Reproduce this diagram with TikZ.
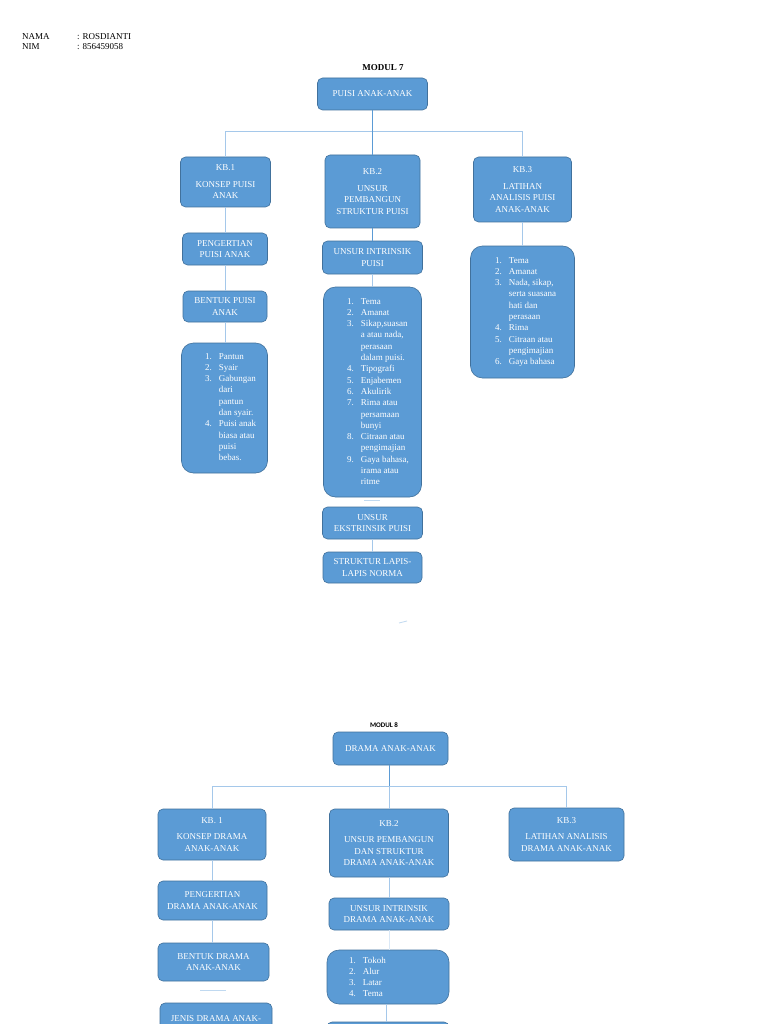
\documentclass[tikz,border=0pt]{standalone}
\usepackage{fontspec}
\setmainfont{Liberation Serif}
\newfontfamily\carlito{Carlito}
\usepackage{tikz}
\definecolor{KotakBiru}{RGB}{91,155,213}
\definecolor{TepiBiru}{RGB}{65,113,156}
\definecolor{GarisMuda}{RGB}{165,200,234}

\begin{document}
\begin{tikzpicture}[x=1pt, y=-1pt, font=\fontsize{9}{11.5}\selectfont,
	kotak/.style={draw=TepiBiru, line width=0.6pt, fill=KotakBiru, rounded corners=5pt,
		text=white, align=center, inner sep=0pt},
	isi/.style={kotak, rounded corners=12pt},
	daftar/.style={text=white, inner sep=0pt, anchor=base west, font=\fontsize{9}{11.3}\selectfont},
	garis/.style={draw=GarisMuda, line width=0.8pt},
	batang/.style={draw=KotakBiru, line width=0.8pt},
	sisa/.style={draw=GarisMuda!70, line width=0.8pt}]

	\useasboundingbox (0,0) rectangle (768,1024);
	\fill[white] (0,0) rectangle (768,1024);
	\clip (0,0) rectangle (768,1024);

	% --- identitas ---
	\node[anchor=base west, inner sep=0pt] (nama) at (22,40) {NAMA};
	\node[anchor=base west, inner sep=0pt] (namaisi) at (77,40) {: ROSDIANTI};
	\node[anchor=base west, inner sep=0pt] (nim) at (22,50) {NIM};
	\node[anchor=base west, inner sep=0pt] (nimisi) at (77,50) {: 856459058};

	% --- modul 7 ---
	\begin{scope}
		\node[font=\fontsize{9}{11}\selectfont\bfseries] (modul7) at (383,68) {MODUL 7};
		\node[kotak, minimum width=110pt, minimum height=32pt] (judul7) at (372.5,94) {PUISI ANAK-ANAK};
		\node[kotak, minimum width=90pt, minimum height=50pt] (kb17) at (225.5,182) {KB.1\\[5pt] KONSEP PUISI\\ ANAK};
		\node[kotak, minimum width=95pt, minimum height=73pt] (kb27) at (372.5,191.5) {KB.2\\[5pt] UNSUR\\ PEMBANGUN\\ STRUKTUR PUISI};
		\node[kotak, minimum width=98pt, minimum height=65pt] (kb37) at (522.5,189.5) {KB.3\\[5pt] LATIHAN\\ ANALISIS PUISI\\ ANAK-ANAK};
		\coordinate (cabang7) at (372.5,131);
		\draw[garis] (kb17.north) -- (kb17.north |- cabang7) -- (kb37.north |- cabang7) -- (kb37.north);
		\draw[batang] (judul7.south) -- (kb27.north);

		% kolom kiri
		\node[kotak, minimum width=85pt, minimum height=32pt] (pengertian7) at (225,249) {PENGERTIAN\\ PUISI ANAK};
		\node[kotak, minimum width=84pt, minimum height=31pt] (bentuk7) at (225,306.5) {BENTUK PUISI\\ ANAK};
		\node[isi, minimum width=86pt, minimum height=130pt] (isi17) at (224.5,408) {};
		\node[daftar] (teks17) at (205,359) {\begin{tabular}[t]{@{}r@{\hspace{7pt}}l@{}}
			1. & Pantun\\ 2. & Syair\\ 3. & Gabungan\\ & dari\\ & pantun\\ & dan syair.\\
			4. & Puisi anak\\ & biasa atau\\ & puisi\\ & bebas.
		\end{tabular}};
		\draw[garis] (kb17.south -| pengertian7.north) -- (pengertian7.north);
		\draw[garis] (pengertian7.south) -- (bentuk7.north);
		\draw[garis] (bentuk7.south) -- (bentuk7.south |- isi17.north);

		% kolom tengah
		\node[kotak, minimum width=100pt, minimum height=33pt] (intrinsik7) at (372.5,257.5) {UNSUR INTRINSIK\\ PUISI};
		\node[isi, minimum width=98pt, minimum height=210pt] (isi27) at (372.5,392) {};
		\node[daftar] (teks27) at (347,304) {\begin{tabular}[t]{@{}r@{\hspace{7pt}}l@{}}
			1. & Tema\\ 2. & Amanat\\ 3. & Sikap,suasan\\ & a atau nada,\\ & perasaan\\ & dalam puisi.\\
			4. & Tipografi\\ 5. & Enjabemen\\ 6. & Akulirik\\ 7. & Rima atau\\ & persamaan\\ & bunyi\\
			8. & Citraan atau\\ & pengimajian\\ 9. & Gaya bahasa,\\ & irama atau\\ & ritme
		\end{tabular}};
		\node[kotak, minimum width=100pt, minimum height=32pt] (ekstrinsik7) at (372.5,523) {UNSUR\\ EKSTRINSIK PUISI};
		\node[kotak, minimum width=99pt, minimum height=31pt] (lapis7) at (372.5,567.5) {STRUKTUR LAPIS-\\ LAPIS NORMA};
		\draw[batang] (kb27.south) -- (intrinsik7.north);
		\draw[garis] (intrinsik7.south) -- (isi27.north);
		\draw[garis] (ekstrinsik7.south) -- (lapis7.north);
		\draw[sisa] (364,500) -- (380,500);
		\draw[sisa] (399,623) -- (407,621);

		% kolom kanan
		\node[isi, minimum width=104pt, minimum height=132pt] (isi37) at (522.5,312) {};
		\node[daftar] (teks37) at (495,263) {\begin{tabular}[t]{@{}r@{\hspace{7pt}}l@{}}
			1. & Tema\\ 2. & Amanat\\ 3. & Nada, sikap,\\ & serta suasana\\ & hati dan\\ & perasaan\\
			4. & Rima\\ 5. & Citraan atau\\ & pengimajian\\ 6. & Gaya bahasa
		\end{tabular}};
		\draw[garis] (kb37.south) -- (isi37.north);
	\end{scope}

	% --- modul 8 ---
	\begin{scope}
		\node[font=\carlito\fontsize{7}{8}\selectfont\bfseries] (modul8) at (384,725) {MODUL 8};
		\node[kotak, minimum width=115pt, minimum height=33pt] (judul8) at (390.5,748.5) {DRAMA ANAK-ANAK};
		\node[kotak, minimum width=108pt, minimum height=51pt] (kb18) at (212,834.5) {KB. 1\\[5pt] KONSEP DRAMA\\ ANAK-ANAK};
		\node[kotak, minimum width=119pt, minimum height=68pt] (kb28) at (389,843) {KB.2\\[5pt] UNSUR PEMBANGUN\\ DAN STRUKTUR\\ DRAMA ANAK-ANAK};
		\node[kotak, minimum width=115pt, minimum height=53pt] (kb38) at (566.5,834.5) {KB.3\\[5pt] LATIHAN ANALISIS\\ DRAMA ANAK-ANAK};
		\coordinate (cabang8) at (389,786);
		\draw[garis] (kb18.north) -- (kb18.north |- cabang8) -- (kb38.north |- cabang8) -- (kb38.north);
		\draw[batang] (judul8.south -| cabang8) -- (cabang8);
		\draw[garis] (cabang8) -- (kb28.north);

		% kolom kiri
		\node[kotak, minimum width=109pt, minimum height=39pt] (pengertian8) at (212.5,900.5) {PENGERTIAN\\ DRAMA ANAK-ANAK};
		\node[kotak, minimum width=111pt, minimum height=38pt] (bentuk8) at (213.5,962) {BENTUK DRAMA\\ ANAK-ANAK};
		\node[kotak, minimum width=112pt, minimum height=42pt] (jenis8) at (216,1024) {JENIS DRAMA ANAK-\\ ANAK};
		\draw[garis] (kb18.south -| pengertian8.north) -- (pengertian8.north);
		\draw[garis] (pengertian8.south) -- (pengertian8.south |- bentuk8.north);
		\draw[sisa] (200,990) -- (226,990);

		% kolom tengah
		\node[kotak, minimum width=120pt, minimum height=32pt] (intrinsik8) at (389,914) {UNSUR INTRINSIK\\ DRAMA ANAK-ANAK};
		\node[isi, minimum width=122pt, minimum height=54pt] (isi18) at (388,977) {};
		\node[daftar] (teks18) at (349,963) {\begin{tabular}[t]{@{}r@{\hspace{7pt}}l@{}}
			1. & Tokoh\\ 2. & Alur\\ 3. & Latar\\ 4. & Tema
		\end{tabular}};
		\node[kotak, minimum width=122pt, minimum height=46pt] (lanjut8) at (388,1045) {};
		\draw[garis] (kb28.south) -- (intrinsik8.north);
		\draw[sisa, draw=GarisMuda!40] (intrinsik8.south) -- (intrinsik8.south |- isi18.north);
		\draw[garis] (isi18.south -| 386,0) -- (lanjut8.north -| 386,0);
	\end{scope}
\end{tikzpicture}
\end{document}
